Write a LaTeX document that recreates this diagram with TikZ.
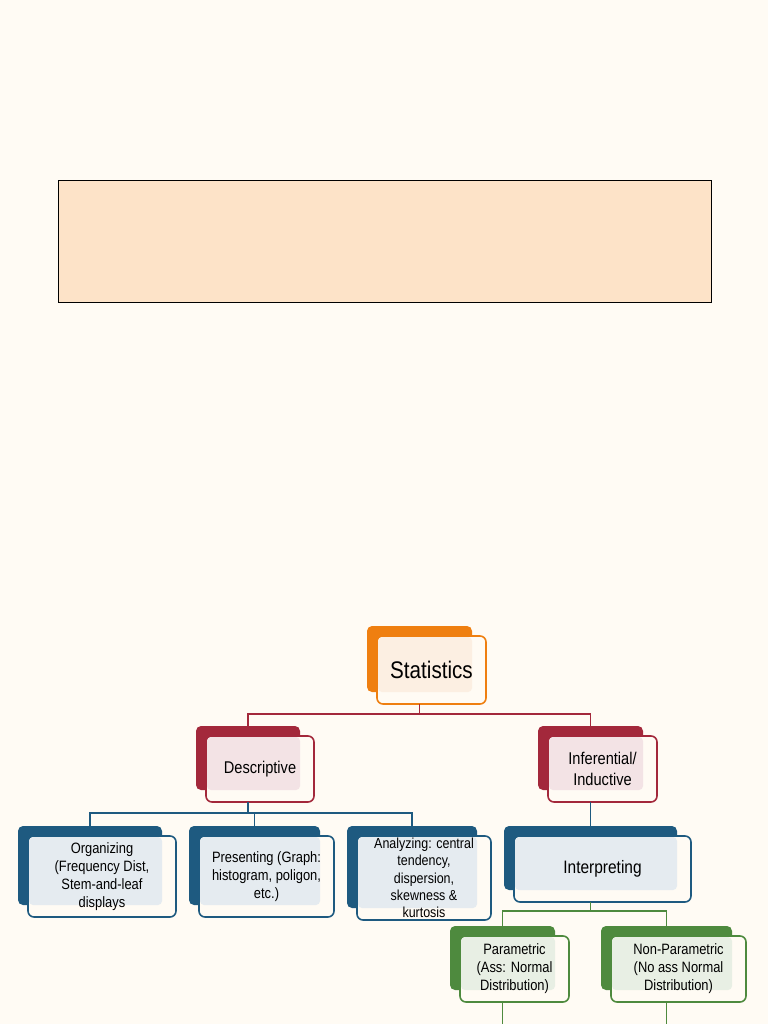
\documentclass[tikz,border=0pt]{standalone}
\usepackage{fontspec}
\setmainfont{Liberation Sans}[FakeStretch=0.86]
\usetikzlibrary{calc}
\definecolor{bg}{HTML}{FFFBF4}
\definecolor{cO}{HTML}{EF7F10}\definecolor{tO}{HTML}{FCEFE2}
\definecolor{cR}{HTML}{A3283B}\definecolor{tR}{HTML}{F3E3E5}
\definecolor{cB}{HTML}{1E5A80}\definecolor{tB}{HTML}{E5EBF0}
\definecolor{cG}{HTML}{4E8A3E}\definecolor{tG}{HTML}{E8EFE4}
\tikzset{lbl/.style={align=center,inner sep=0pt},
 lnk/.style={line width=1.6pt}}
% name, bx1, by1, bx2, by2, colour letter, text, font size
\newcommand\cbox[8]{%
 \fill[c#6,rounded corners=5pt] (#2,#3) rectangle (#4,#5);
 \node[inner sep=0pt,minimum width={#4-#2},minimum height={#5-#3}] (#1b) at ({(#2+#4)/2},{(#3+#5)/2}) {};
 \draw[c#6,fill=bg,line width=1.6pt,rounded corners=6pt] ({#2+10},{#3+10}) rectangle ({#4+14},{#5+12});
 \fill[t#6,rounded corners=4pt] ({#2+11},{#3+11}) rectangle ({#4},{#5});
 \node[inner sep=0pt,minimum width={#4-#2+4},minimum height={#5-#3+2}] (#1) at ({(#2+#4)/2+12},{(#3+#5)/2+11}) {};
 \node[lbl,font=\fontsize{#8pt}{\dimexpr#8pt*6/5\relax}\selectfont] at (#1) {#7};}
\begin{document}
\begin{tikzpicture}[x=1pt,y=-1pt]
\fill[bg] (0,0) rectangle (768,1024);
\useasboundingbox (0,0) rectangle (768,1024);
\draw[fill={rgb,255:red,253;green,227;blue,200},line width=0.6pt] (58,180) rectangle (711,302);
\coordinate (bot) at (0,1024);
\cbox{stat}{367}{626}{472}{692}{O}{Statistics}{24}
\cbox{desc}{196}{726}{300}{790}{R}{Descriptive}{17}
\cbox{inf}{538}{726}{643}{790}{R}{Inferential/\\Inductive}{17}
\cbox{org}{18}{826}{162}{905}{B}{Organizing\\(Frequency Dist,\\Stem-and-leaf\\displays}{15}
\cbox{pre}{189}{826}{320}{905}{B}{Presenting (Graph:\\histogram, poligon,\\etc.)}{15}
\cbox{ana}{347}{826}{477}{908}{B}{Analyzing: central\\tendency,\\dispersion,\\skewness \&\\kurtosis}{14.5}
\cbox{int}{504}{826}{677}{890}{B}{Interpreting}{18}
\cbox{par}{450}{926}{555}{990}{G}{Parametric\\(Ass: Normal\\Distribution)}{15}
\cbox{non}{601}{926}{732}{990}{G}{Non-Parametric\\(No ass Normal\\Distribution)}{15}
\begin{scope}[lnk]
\draw[cR] (statb.south |- stat.south) -- ++(0,10) -| (descb.north);
\draw[cR] (statb.south |- stat.south) ++(0,10) -| (infb.north);
\draw[cB] (descb.south |- desc.south) -- ++(0,11) -| (orgb.north);
\draw[cB] (descb.south |- desc.south) ++(0,11) -| (anab.north);
\draw[cB] (descb.south |- desc.south) ++(0,11) -| (preb.north);
\draw[cB] (infb.south |- inf.south) -- (intb.north);
\draw[cG] (intb.south |- int.south) -- ++(0,9) -| (parb.north);
\draw[cG] (intb.south |- int.south) ++(0,9) -| (nonb.north);
\draw[cG] (parb.south |- par.south) -- (parb.south |- bot);
\draw[cG] (nonb.south |- non.south) -- (nonb.south |- bot);
\end{scope}
\end{tikzpicture}
\end{document}
